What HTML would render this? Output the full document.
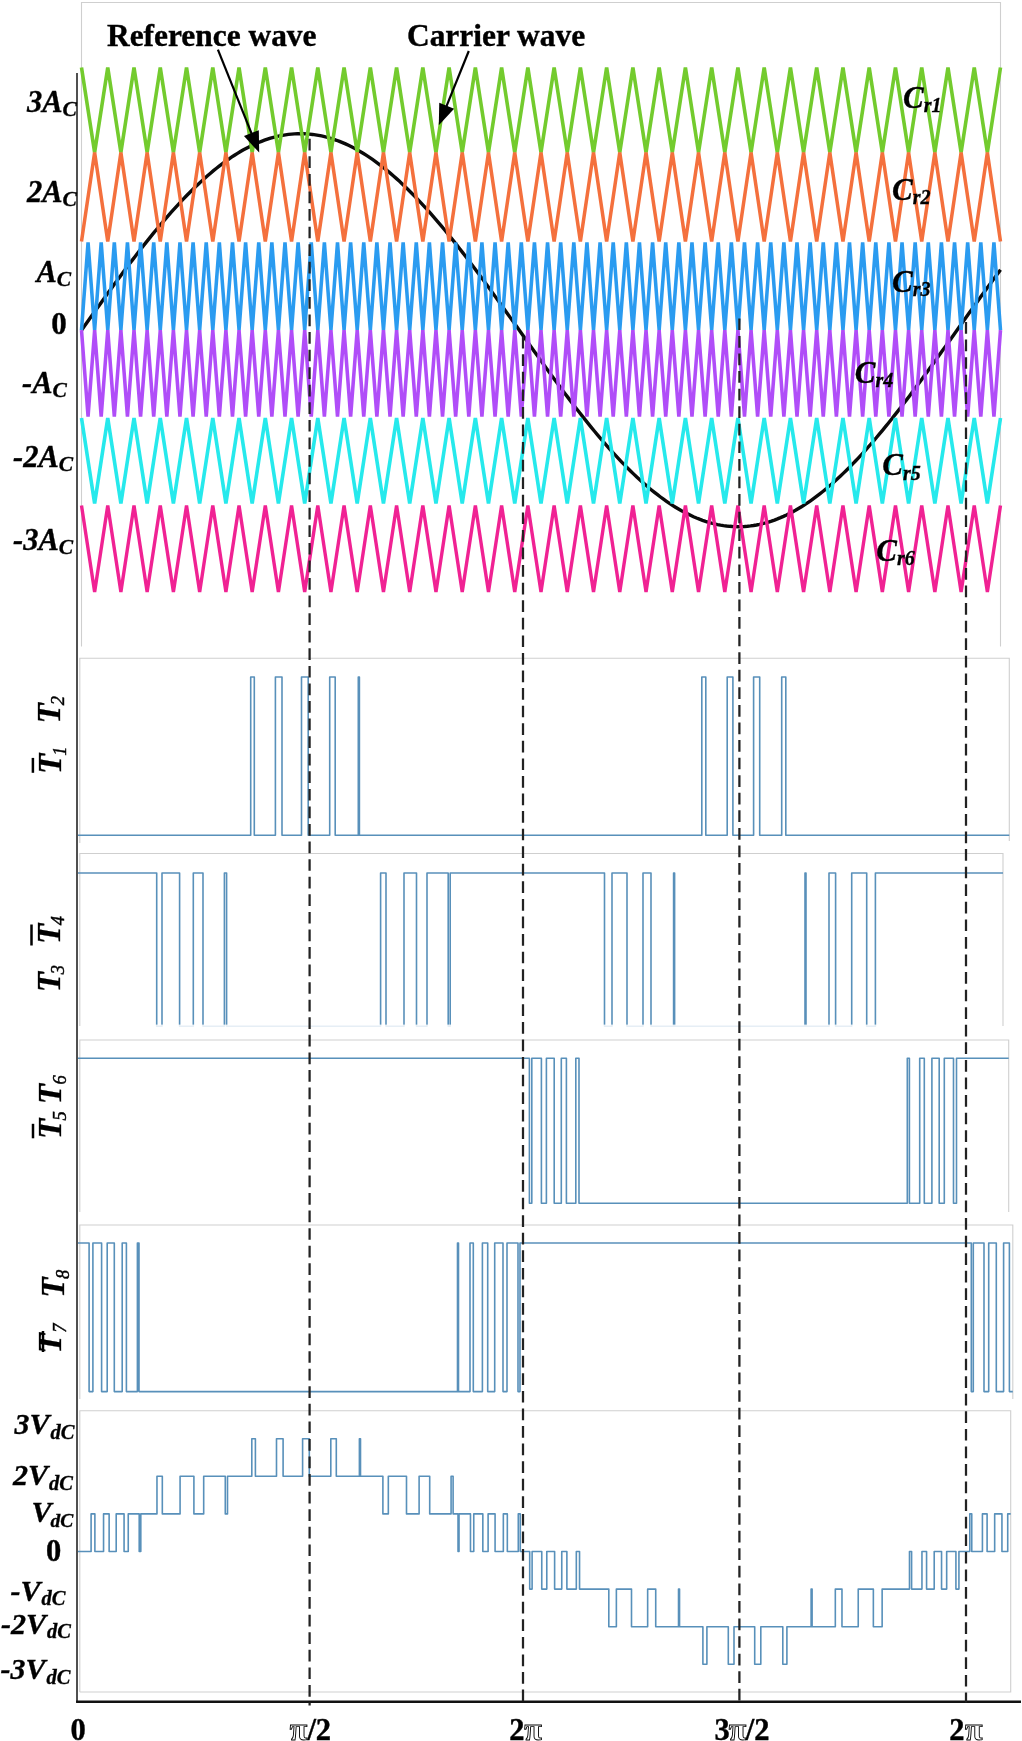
<!DOCTYPE html>
<html lang="en"><head><meta charset="utf-8"><title>Level-shifted PWM waveforms</title>
<style>html,body{margin:0;padding:0;background:#fff}svg{display:block}text{font-family:"Liberation Serif","DejaVu Serif",serif;fill:#000}.bi{font-weight:bold;font-style:italic;stroke:#000;stroke-width:0.35px}.b{font-weight:bold;stroke:#000;stroke-width:0.4px}.i{font-style:italic}</style></head><body>
<svg width="1022" height="1741" viewBox="0 0 1022 1741">
<rect width="1022" height="1741" fill="#fff"/>
<g fill="none" stroke="#cfcfcf" stroke-width="1.1">
<path d="M81.5 646.5V2.5H1000.5V646.5"/>
<path d="M79.8 843V658.3H1009.3V841"/>
<path d="M79.8 1026V853.5H1003V1026"/>
<path d="M79.8 1212V1040H1008.7V1212"/>
<path d="M79.8 1399V1225H1012.8V1399"/>
<path d="M79.8 1692V1410.7H1010.7V1692H79.8"/>
</g>
<polyline points="81.5,330.2 84.5,325.97 87.5,321.74 90.5,317.52 93.5,313.3 96.5,309.09 99.5,304.89 102.5,300.7 105.5,296.52 108.5,292.36 111.5,288.22 114.5,284.1 117.5,280 120.5,275.92 123.5,271.86 126.5,267.84 129.5,263.84 132.5,259.87 135.5,255.94 138.5,252.04 141.5,248.18 144.5,244.35 147.5,240.57 150.5,236.82 153.5,233.12 156.5,229.47 159.5,225.86 162.5,222.3 165.5,218.79 168.5,215.33 171.5,211.92 174.5,208.57 177.5,205.28 180.5,202.04 183.5,198.86 186.5,195.75 189.5,192.69 192.5,189.7 195.5,186.78 198.5,183.92 201.5,181.13 204.5,178.41 207.5,175.76 210.5,173.18 213.5,170.67 216.5,168.24 219.5,165.88 222.5,163.6 225.5,161.39 228.5,159.27 231.5,157.22 234.5,155.25 237.5,153.37 240.5,151.56 243.5,149.84 246.5,148.21 249.5,146.65 252.5,145.18 255.5,143.8 258.5,142.51 261.5,141.3 264.5,140.18 267.5,139.14 270.5,138.2 273.5,137.34 276.5,136.58 279.5,135.9 282.5,135.31 285.5,134.82 288.5,134.41 291.5,134.1 294.5,133.87 297.5,133.74 300.5,133.7 303.5,133.75 306.5,133.89 309.5,134.12 312.5,134.44 315.5,134.86 318.5,135.36 321.5,135.95 324.5,136.64 327.5,137.41 330.5,138.27 333.5,139.23 336.5,140.27 339.5,141.4 342.5,142.61 345.5,143.91 348.5,145.3 351.5,146.78 354.5,148.34 357.5,149.98 360.5,151.71 363.5,153.52 366.5,155.41 369.5,157.39 372.5,159.44 375.5,161.57 378.5,163.79 381.5,166.07 384.5,168.44 387.5,170.88 390.5,173.39 393.5,175.98 396.5,178.63 399.5,181.36 402.5,184.16 405.5,187.02 408.5,189.95 411.5,192.95 414.5,196.01 417.5,199.13 420.5,202.31 423.5,205.55 426.5,208.85 429.5,212.2 432.5,215.61 435.5,219.08 438.5,222.59 441.5,226.16 444.5,229.77 447.5,233.43 450.5,237.13 453.5,240.88 456.5,244.67 459.5,248.5 462.5,252.36 465.5,256.27 468.5,260.2 471.5,264.17 474.5,268.17 477.5,272.2 480.5,276.26 483.5,280.34 486.5,284.44 489.5,288.56 492.5,292.71 495.5,296.87 498.5,301.05 501.5,305.24 504.5,309.44 507.5,313.65 510.5,317.87 513.5,322.09 516.5,326.32 519.5,330.55 522.5,334.78 525.5,339.01 528.5,343.23 531.5,347.45 534.5,351.66 537.5,355.86 540.5,360.05 543.5,364.23 546.5,368.38 549.5,372.52 552.5,376.65 555.5,380.75 558.5,384.82 561.5,388.87 564.5,392.9 567.5,396.89 570.5,400.86 573.5,404.79 576.5,408.68 579.5,412.54 582.5,416.36 585.5,420.15 588.5,423.89 591.5,427.58 594.5,431.24 597.5,434.84 600.5,438.4 603.5,441.9 606.5,445.36 609.5,448.76 612.5,452.1 615.5,455.39 618.5,458.63 621.5,461.8 624.5,464.91 627.5,467.96 630.5,470.94 633.5,473.86 636.5,476.71 639.5,479.5 642.5,482.22 645.5,484.86 648.5,487.43 651.5,489.94 654.5,492.36 657.5,494.71 660.5,496.99 663.5,499.19 666.5,501.31 669.5,503.35 672.5,505.31 675.5,507.19 678.5,508.98 681.5,510.7 684.5,512.33 687.5,513.87 690.5,515.33 693.5,516.71 696.5,518 699.5,519.2 702.5,520.31 705.5,521.34 708.5,522.28 711.5,523.12 714.5,523.88 717.5,524.55 720.5,525.13 723.5,525.62 726.5,526.02 729.5,526.32 732.5,526.54 735.5,526.67 738.5,526.7 741.5,526.64 744.5,526.49 747.5,526.26 750.5,525.93 753.5,525.5 756.5,524.99 759.5,524.39 762.5,523.7 765.5,522.92 768.5,522.05 771.5,521.09 774.5,520.04 777.5,518.91 780.5,517.68 783.5,516.37 786.5,514.98 789.5,513.49 792.5,511.93 795.5,510.28 798.5,508.54 801.5,506.72 804.5,504.82 807.5,502.84 810.5,500.78 813.5,498.64 816.5,496.43 819.5,494.13 822.5,491.76 825.5,489.32 828.5,486.8 831.5,484.21 834.5,481.54 837.5,478.81 840.5,476.01 843.5,473.14 846.5,470.2 849.5,467.2 852.5,464.14 855.5,461.01 858.5,457.82 861.5,454.58 864.5,451.27 867.5,447.91 870.5,444.5 873.5,441.03 876.5,437.51 879.5,433.94 882.5,430.33 885.5,426.66 888.5,422.96 891.5,419.2 894.5,415.41 897.5,411.58 900.5,407.71 903.5,403.81 906.5,399.87 909.5,395.9 912.5,391.89 915.5,387.86 918.5,383.81 921.5,379.72 924.5,375.62 927.5,371.49 930.5,367.35 933.5,363.18 936.5,359.01 939.5,354.81 942.5,350.61 945.5,346.4 948.5,342.18 951.5,337.95 954.5,333.73 957.5,329.49 960.5,325.26 963.5,321.04 966.5,316.81 969.5,312.6 972.5,308.39 975.5,304.19 978.5,300 981.5,295.83 984.5,291.67 987.5,287.53 990.5,283.41 993.5,279.31 996.5,275.24 999.5,271.19 1000.5,269.85" fill="none" stroke="#0a0a0a" stroke-width="3.4" stroke-linejoin="round"/>
<defs><filter id="sb" x="-1%" y="-5%" width="102%" height="110%"><feGaussianBlur stdDeviation="0.55"/></filter><filter id="sb2" x="-1%" y="-5%" width="102%" height="110%"><feGaussianBlur stdDeviation="0.35"/></filter></defs>
<g filter="url(#sb)">
<polyline points="81.5,67.5 94.63,152.5 107.76,67.5 120.89,152.5 134.01,67.5 147.14,152.5 160.27,67.5 173.4,152.5 186.53,67.5 199.66,152.5 212.79,67.5 225.91,152.5 239.04,67.5 252.17,152.5 265.3,67.5 278.43,152.5 291.56,67.5 304.69,152.5 317.81,67.5 330.94,152.5 344.07,67.5 357.2,152.5 370.33,67.5 383.46,152.5 396.59,67.5 409.71,152.5 422.84,67.5 435.97,152.5 449.1,67.5 462.23,152.5 475.36,67.5 488.49,152.5 501.61,67.5 514.74,152.5 527.87,67.5 541,152.5 554.13,67.5 567.26,152.5 580.39,67.5 593.51,152.5 606.64,67.5 619.77,152.5 632.9,67.5 646.03,152.5 659.16,67.5 672.29,152.5 685.41,67.5 698.54,152.5 711.67,67.5 724.8,152.5 737.93,67.5 751.06,152.5 764.19,67.5 777.31,152.5 790.44,67.5 803.57,152.5 816.7,67.5 829.83,152.5 842.96,67.5 856.09,152.5 869.21,67.5 882.34,152.5 895.47,67.5 908.6,152.5 921.73,67.5 934.86,152.5 947.99,67.5 961.11,152.5 974.24,67.5 987.37,152.5 1000.5,67.5" fill="none" stroke="#73cb2e" stroke-width="3.6" stroke-linejoin="miter" stroke-miterlimit="2"/>
<polyline points="81.5,241.5 94.63,152.5 107.76,241.5 120.89,152.5 134.01,241.5 147.14,152.5 160.27,241.5 173.4,152.5 186.53,241.5 199.66,152.5 212.79,241.5 225.91,152.5 239.04,241.5 252.17,152.5 265.3,241.5 278.43,152.5 291.56,241.5 304.69,152.5 317.81,241.5 330.94,152.5 344.07,241.5 357.2,152.5 370.33,241.5 383.46,152.5 396.59,241.5 409.71,152.5 422.84,241.5 435.97,152.5 449.1,241.5 462.23,152.5 475.36,241.5 488.49,152.5 501.61,241.5 514.74,152.5 527.87,241.5 541,152.5 554.13,241.5 567.26,152.5 580.39,241.5 593.51,152.5 606.64,241.5 619.77,152.5 632.9,241.5 646.03,152.5 659.16,241.5 672.29,152.5 685.41,241.5 698.54,152.5 711.67,241.5 724.8,152.5 737.93,241.5 751.06,152.5 764.19,241.5 777.31,152.5 790.44,241.5 803.57,152.5 816.7,241.5 829.83,152.5 842.96,241.5 856.09,152.5 869.21,241.5 882.34,152.5 895.47,241.5 908.6,152.5 921.73,241.5 934.86,152.5 947.99,241.5 961.11,152.5 974.24,241.5 987.37,152.5 1000.5,241.5" fill="none" stroke="#f4703c" stroke-width="3.5" stroke-linejoin="miter" stroke-miterlimit="2"/>
<polyline points="81.5,330.2 88.06,242.5 94.63,330.2 101.19,242.5 107.76,330.2 114.32,242.5 120.89,330.2 127.45,242.5 134.01,330.2 140.58,242.5 147.14,330.2 153.71,242.5 160.27,330.2 166.84,242.5 173.4,330.2 179.96,242.5 186.53,330.2 193.09,242.5 199.66,330.2 206.22,242.5 212.79,330.2 219.35,242.5 225.91,330.2 232.48,242.5 239.04,330.2 245.61,242.5 252.17,330.2 258.74,242.5 265.3,330.2 271.86,242.5 278.43,330.2 284.99,242.5 291.56,330.2 298.12,242.5 304.69,330.2 311.25,242.5 317.81,330.2 324.38,242.5 330.94,330.2 337.51,242.5 344.07,330.2 350.64,242.5 357.2,330.2 363.76,242.5 370.33,330.2 376.89,242.5 383.46,330.2 390.02,242.5 396.59,330.2 403.15,242.5 409.71,330.2 416.28,242.5 422.84,330.2 429.41,242.5 435.97,330.2 442.54,242.5 449.1,330.2 455.66,242.5 462.23,330.2 468.79,242.5 475.36,330.2 481.92,242.5 488.49,330.2 495.05,242.5 501.61,330.2 508.18,242.5 514.74,330.2 521.31,242.5 527.87,330.2 534.44,242.5 541,330.2 547.56,242.5 554.13,330.2 560.69,242.5 567.26,330.2 573.82,242.5 580.39,330.2 586.95,242.5 593.51,330.2 600.08,242.5 606.64,330.2 613.21,242.5 619.77,330.2 626.34,242.5 632.9,330.2 639.46,242.5 646.03,330.2 652.59,242.5 659.16,330.2 665.72,242.5 672.29,330.2 678.85,242.5 685.41,330.2 691.98,242.5 698.54,330.2 705.11,242.5 711.67,330.2 718.24,242.5 724.8,330.2 731.36,242.5 737.93,330.2 744.49,242.5 751.06,330.2 757.62,242.5 764.19,330.2 770.75,242.5 777.31,330.2 783.88,242.5 790.44,330.2 797.01,242.5 803.57,330.2 810.14,242.5 816.7,330.2 823.26,242.5 829.83,330.2 836.39,242.5 842.96,330.2 849.52,242.5 856.09,330.2 862.65,242.5 869.21,330.2 875.78,242.5 882.34,330.2 888.91,242.5 895.47,330.2 902.04,242.5 908.6,330.2 915.16,242.5 921.73,330.2 928.29,242.5 934.86,330.2 941.42,242.5 947.99,330.2 954.55,242.5 961.11,330.2 967.68,242.5 974.24,330.2 980.81,242.5 987.37,330.2 993.94,242.5 1000.5,330.2" fill="none" stroke="#2b9bf0" stroke-width="3.55" stroke-linejoin="miter" stroke-miterlimit="2"/>
<polyline points="81.5,330.2 88.06,416.5 94.63,330.2 101.19,416.5 107.76,330.2 114.32,416.5 120.89,330.2 127.45,416.5 134.01,330.2 140.58,416.5 147.14,330.2 153.71,416.5 160.27,330.2 166.84,416.5 173.4,330.2 179.96,416.5 186.53,330.2 193.09,416.5 199.66,330.2 206.22,416.5 212.79,330.2 219.35,416.5 225.91,330.2 232.48,416.5 239.04,330.2 245.61,416.5 252.17,330.2 258.74,416.5 265.3,330.2 271.86,416.5 278.43,330.2 284.99,416.5 291.56,330.2 298.12,416.5 304.69,330.2 311.25,416.5 317.81,330.2 324.38,416.5 330.94,330.2 337.51,416.5 344.07,330.2 350.64,416.5 357.2,330.2 363.76,416.5 370.33,330.2 376.89,416.5 383.46,330.2 390.02,416.5 396.59,330.2 403.15,416.5 409.71,330.2 416.28,416.5 422.84,330.2 429.41,416.5 435.97,330.2 442.54,416.5 449.1,330.2 455.66,416.5 462.23,330.2 468.79,416.5 475.36,330.2 481.92,416.5 488.49,330.2 495.05,416.5 501.61,330.2 508.18,416.5 514.74,330.2 521.31,416.5 527.87,330.2 534.44,416.5 541,330.2 547.56,416.5 554.13,330.2 560.69,416.5 567.26,330.2 573.82,416.5 580.39,330.2 586.95,416.5 593.51,330.2 600.08,416.5 606.64,330.2 613.21,416.5 619.77,330.2 626.34,416.5 632.9,330.2 639.46,416.5 646.03,330.2 652.59,416.5 659.16,330.2 665.72,416.5 672.29,330.2 678.85,416.5 685.41,330.2 691.98,416.5 698.54,330.2 705.11,416.5 711.67,330.2 718.24,416.5 724.8,330.2 731.36,416.5 737.93,330.2 744.49,416.5 751.06,330.2 757.62,416.5 764.19,330.2 770.75,416.5 777.31,330.2 783.88,416.5 790.44,330.2 797.01,416.5 803.57,330.2 810.14,416.5 816.7,330.2 823.26,416.5 829.83,330.2 836.39,416.5 842.96,330.2 849.52,416.5 856.09,330.2 862.65,416.5 869.21,330.2 875.78,416.5 882.34,330.2 888.91,416.5 895.47,330.2 902.04,416.5 908.6,330.2 915.16,416.5 921.73,330.2 928.29,416.5 934.86,330.2 941.42,416.5 947.99,330.2 954.55,416.5 961.11,330.2 967.68,416.5 974.24,330.2 980.81,416.5 987.37,330.2 993.94,416.5 1000.5,330.2" fill="none" stroke="#b04ef8" stroke-width="3.55" stroke-linejoin="miter" stroke-miterlimit="2"/>
<polyline points="81.5,418 94.63,503.5 107.76,418 120.89,503.5 134.01,418 147.14,503.5 160.27,418 173.4,503.5 186.53,418 199.66,503.5 212.79,418 225.91,503.5 239.04,418 252.17,503.5 265.3,418 278.43,503.5 291.56,418 304.69,503.5 317.81,418 330.94,503.5 344.07,418 357.2,503.5 370.33,418 383.46,503.5 396.59,418 409.71,503.5 422.84,418 435.97,503.5 449.1,418 462.23,503.5 475.36,418 488.49,503.5 501.61,418 514.74,503.5 527.87,418 541,503.5 554.13,418 567.26,503.5 580.39,418 593.51,503.5 606.64,418 619.77,503.5 632.9,418 646.03,503.5 659.16,418 672.29,503.5 685.41,418 698.54,503.5 711.67,418 724.8,503.5 737.93,418 751.06,503.5 764.19,418 777.31,503.5 790.44,418 803.57,503.5 816.7,418 829.83,503.5 842.96,418 856.09,503.5 869.21,418 882.34,503.5 895.47,418 908.6,503.5 921.73,418 934.86,503.5 947.99,418 961.11,503.5 974.24,418 987.37,503.5 1000.5,418" fill="none" stroke="#25e9ec" stroke-width="3.6" stroke-linejoin="miter" stroke-miterlimit="2"/>
<polyline points="81.5,505.5 94.63,592 107.76,505.5 120.89,592 134.01,505.5 147.14,592 160.27,505.5 173.4,592 186.53,505.5 199.66,592 212.79,505.5 225.91,592 239.04,505.5 252.17,592 265.3,505.5 278.43,592 291.56,505.5 304.69,592 317.81,505.5 330.94,592 344.07,505.5 357.2,592 370.33,505.5 383.46,592 396.59,505.5 409.71,592 422.84,505.5 435.97,592 449.1,505.5 462.23,592 475.36,505.5 488.49,592 501.61,505.5 514.74,592 527.87,505.5 541,592 554.13,505.5 567.26,592 580.39,505.5 593.51,592 606.64,505.5 619.77,592 632.9,505.5 646.03,592 659.16,505.5 672.29,592 685.41,505.5 698.54,592 711.67,505.5 724.8,592 737.93,505.5 751.06,592 764.19,505.5 777.31,592 790.44,505.5 803.57,592 816.7,505.5 829.83,592 842.96,505.5 856.09,592 869.21,505.5 882.34,592 895.47,505.5 908.6,592 921.73,505.5 934.86,592 947.99,505.5 961.11,592 974.24,505.5 987.37,592 1000.5,505.5" fill="none" stroke="#f02293" stroke-width="3.4" stroke-linejoin="miter" stroke-miterlimit="2"/>
</g>
<g filter="url(#sb2)">
<path d="M78 835.2H250.7V677H254.3V835.2H275.4V677H282V835.2H301.5V677H308.2V835.2H329.7V677H335.2V835.2H358.3V677H359.4V835.2H701.8V677H705.8V835.2H727.2V677H732.9V835.2H753.6V677H759.7V835.2H781.7V677H785.8V835.2H1009.3" fill="none" stroke="#5890ba" stroke-width="1.6" stroke-linejoin="round"/>
<path d="M78 873H156.7V1026.2H162V873H179.6V1026.2H193.3V873H203V1026.2H224.4V873H226.6V1026.2H380.6V873H386V1026.2H404V873H416.5V1026.2H427V873H448.2V1026.2H450.2V873H604.5V1026.2H612V873H627V1026.2H643V873H651V1026.2H673.6V873H674.6V1026.2H805V873H806V1026.2H829V873H835.6V1026.2H851.7V873H866.7V1026.2H875.4V873H1003" fill="none" stroke="#5890ba" stroke-width="1.6" stroke-linejoin="round"/>
<path d="M78 1058.2H529.4V1203.3H531.8V1058.2H541.4V1203.3H546.4V1058.2H554.2V1203.3H561.3V1058.2H566.4V1203.3H575.8V1058.2H579V1203.3H907.3V1058.2H909.4V1203.3H919.7V1058.2H924.3V1203.3H931.9V1058.2H939.2V1203.3H944.3V1058.2H953.5V1203.3H956.5V1058.2H1008.7" fill="none" stroke="#5890ba" stroke-width="1.6" stroke-linejoin="round"/>
<path d="M78 1243H89.1V1391.6H92.9V1243H101.6V1391.6H107.2V1243H114.3V1391.6H122.2V1243H126.4V1391.6H137.4V1243H139V1391.6H457.5V1243H458.5V1391.6H470V1243H473.3V1391.6H482.4V1243H487.7V1391.6H494.7V1243H503V1391.6H507V1243H518V1391.6H520V1243H971.3V1391.6H973.3V1243H984V1391.6H988.7V1243H996.3V1391.6H1003.6V1243H1009.4V1391.6H1012.8" fill="none" stroke="#5890ba" stroke-width="1.6" stroke-linejoin="round"/>
<rect x="81" y="1024.6" width="921" height="3.4" fill="#fff" opacity="0.85"/>
<path d="M78 1551.5H91.1V1513.9H94.88V1551.5H103.55V1513.9H109.13V1551.5H116.2V1513.9H124.07V1551.5H128.25V1513.9H139.21V1551.5H140.8V1513.9H156.97V1476.3H162.32V1513.9H180.08V1476.3H193.9V1513.9H203.69V1476.3H225.28V1513.9H227.5V1476.3H251.8V1438.7H255.4V1476.3H276.5V1438.7H283.1V1476.3H302.6V1438.7H309.3V1476.3H330.8V1438.7H336.3V1476.3H359.4V1438.7H360.5V1476.3H382.89V1513.9H388.33V1476.3H406.5V1513.9H419.11V1476.3H429.7V1513.9H451.09V1476.3H453.11V1513.9H458.03V1551.5H459.02V1513.9H470.48V1551.5H473.76V1513.9H482.83V1551.5H488.11V1513.9H495.08V1551.5H503.34V1513.9H507.33V1551.5H518.28V1513.9H520.28V1551.5H529.7V1589.1H532.11V1551.5H541.76V1589.1H546.78V1551.5H554.62V1589.1H561.76V1551.5H566.88V1589.1H576.33V1551.5H579.54V1589.1H608.8V1626.7H616.37V1589.1H631.5V1626.7H647.65V1589.1H655.72V1626.7H678.52V1589.1H679.53V1626.7H702.9V1664.3H706.9V1626.7H728.3V1664.3H734V1626.7H754.7V1664.3H760.8V1626.7H782.8V1664.3H786.9V1626.7H811.11V1589.1H812.11V1626.7H835.32V1589.1H841.98V1626.7H858.23V1589.1H873.36V1626.7H882.14V1589.1H909.49V1551.5H911.6V1589.1H921.95V1551.5H926.57V1589.1H934.21V1551.5H941.55V1589.1H946.67V1551.5H955.92V1589.1H958.93V1551.5H969.77V1513.9H971.76V1551.5H982.42V1513.9H987.1V1551.5H994.67V1513.9H1001.94V1551.5H1007.72V1513.9H1010.7" fill="none" stroke="#5890ba" stroke-width="1.6" stroke-linejoin="round"/>
</g>
<path d="M77 73V1702.5" fill="none" stroke="#3d3d3d" stroke-width="1.8"/>
<path d="M76.1 1701.7H1021" fill="none" stroke="#111" stroke-width="2.4"/>
<g fill="none" stroke="#222" stroke-width="2.25" stroke-dasharray="11.7 5.87">
<path d="M309.6 138.8V1705.4"/>
<path d="M523 336.7V1707"/>
<path d="M739.4 318.4V1701.5"/>
<path d="M966 322V1702.5"/>
</g>
<path d="M217.9 49.6 L252.13 134.96" stroke="#000" stroke-width="2.2" fill="none"/>
<path d="M259.2 152.6 L243.96 136.09 L258.81 130.13 Z" fill="#000"/>
<path d="M468.8 51 L445.92 107.59" stroke="#000" stroke-width="2.2" fill="none"/>
<path d="M438.8 125.2 L439.25 102.73 L454.09 108.73 Z" fill="#000"/>
<text x="107" y="46.3" class="b" font-size="31.4" text-anchor="start">Reference wave</text>
<text x="407" y="46.3" class="b" font-size="31.4" text-anchor="start">Carrier wave</text>
<text x="27" y="111.7" class="bi" font-size="30.5">3A<tspan font-size="21.5" dy="4" dx="0">C</tspan></text>
<text x="27" y="202.2" class="bi" font-size="30.5">2A<tspan font-size="21.5" dy="4" dx="0">C</tspan></text>
<text x="36.5" y="282.4" class="bi" font-size="30.5">A<tspan font-size="21.5" dy="4" dx="0">C</tspan></text>
<text x="51.2" y="334" class="b" font-size="31" text-anchor="start">0</text>
<text x="22" y="393.3" class="bi" font-size="30.5">-A<tspan font-size="21.5" dy="4" dx="0">C</tspan></text>
<text x="13" y="467.2" class="bi" font-size="30.5">-2A<tspan font-size="21.5" dy="4" dx="0">C</tspan></text>
<text x="13" y="549.8" class="bi" font-size="30.5">-3A<tspan font-size="21.5" dy="4" dx="0">C</tspan></text>
<text x="903" y="107.8" class="bi" font-size="31">C<tspan font-size="20" dy="3.8" dx="0">r1</tspan></text>
<text x="892" y="200.3" class="bi" font-size="31">C<tspan font-size="20" dy="3.8" dx="0">r2</tspan></text>
<text x="892" y="292" class="bi" font-size="31">C<tspan font-size="20" dy="3.8" dx="0">r3</tspan></text>
<text x="854.8" y="382.6" class="bi" font-size="31">C<tspan font-size="20" dy="4.4" dx="0">r4</tspan></text>
<text x="882.2" y="475.3" class="bi" font-size="31">C<tspan font-size="20" dy="4.4" dx="0">r5</tspan></text>
<text x="876.3" y="560.9" class="bi" font-size="31">C<tspan font-size="20" dy="4.4" dx="0">r6</tspan></text>
<text x="14.5" y="1434" class="bi" font-size="30">3V<tspan font-size="20.5" dy="4.7" dx="1">dC</tspan></text>
<text x="13" y="1485.3" class="bi" font-size="30">2V<tspan font-size="20.5" dy="4.5" dx="1">dC</tspan></text>
<text x="31.5" y="1522.4" class="bi" font-size="30">V<tspan font-size="19.5" dy="4.5" dx="-1">dC</tspan></text>
<text x="46" y="1561.2" class="b" font-size="30.5" text-anchor="start">0</text>
<text x="10.5" y="1600.9" class="bi" font-size="30">-V<tspan font-size="20.5" dy="4.5" dx="1">dC</tspan></text>
<text x="1" y="1633.6" class="bi" font-size="30">-2V<tspan font-size="20.5" dy="4.2" dx="1">dC</tspan></text>
<text x="0.5" y="1679.3" class="bi" font-size="30">-3V<tspan font-size="20.5" dy="4.6" dx="1">dC</tspan></text>
<text transform="translate(59.7 723.6) rotate(-90)" class="bi" font-size="33" style="stroke:#000;stroke-width:0.3px">T</text>
<text transform="translate(64.1 705.3) rotate(-90)" class="i" font-size="18.5" style="stroke:#000;stroke-width:0.45px">2</text>
<text transform="translate(61.2 773.9) rotate(-90)" class="bi" font-size="33" style="stroke:#000;stroke-width:0.3px">T</text>
<text transform="translate(65.5 755.8) rotate(-90)" class="i" font-size="18.5" style="stroke:#000;stroke-width:0.45px">1</text>
<path d="M32.9 757.9V772.8" stroke="#000" stroke-width="2.5" fill="none"/>
<text transform="translate(59.7 943.9) rotate(-90)" class="bi" font-size="33" style="stroke:#000;stroke-width:0.3px">T</text>
<text transform="translate(64.1 925.3) rotate(-90)" class="i" font-size="18.5" style="stroke:#000;stroke-width:0.45px">4</text>
<path d="M31.5 924.5V945.5" stroke="#000" stroke-width="2.5" fill="none"/>
<text transform="translate(59.7 992.2) rotate(-90)" class="bi" font-size="33" style="stroke:#000;stroke-width:0.3px">T</text>
<text transform="translate(64.1 974.3) rotate(-90)" class="i" font-size="18.5" style="stroke:#000;stroke-width:0.45px">3</text>
<text transform="translate(61.4 1104.2) rotate(-90)" class="bi" font-size="33" style="stroke:#000;stroke-width:0.3px">T</text>
<text transform="translate(65.5 1084.6) rotate(-90)" class="i" font-size="18.5" style="stroke:#000;stroke-width:0.45px">6</text>
<text transform="translate(61.4 1139.1) rotate(-90)" class="bi" font-size="33" style="stroke:#000;stroke-width:0.3px">T</text>
<text transform="translate(65.5 1120.5) rotate(-90)" class="i" font-size="18.5" style="stroke:#000;stroke-width:0.45px">5</text>
<path d="M33 1123.8V1138.3" stroke="#000" stroke-width="2.5" fill="none"/>
<text transform="translate(64.1 1297.7) rotate(-90)" class="bi" font-size="33" style="stroke:#000;stroke-width:0.3px">T</text>
<text transform="translate(69 1279.1) rotate(-90)" class="i" font-size="18.5" style="stroke:#000;stroke-width:0.45px">8</text>
<text transform="translate(61 1353.6) rotate(-90)" class="bi" font-size="33" style="stroke:#000;stroke-width:0.3px">T</text>
<text transform="translate(65.5 1332.8) rotate(-90)" class="i" font-size="18.5" style="stroke:#000;stroke-width:0.45px">7</text>
<path d="M43 1331V1352" stroke="#000" stroke-width="2.5" fill="none"/>
<text x="70.4" y="1740.3" class="b" font-size="30.5">0</text>
<text x="289.8" y="1740.3" font-size="31" textLength="17.5" lengthAdjust="spacingAndGlyphs" style="fill:#fff;stroke:#000;stroke-width:0.9px" class="b">π</text>
<text x="307.4" y="1740.3" class="b" font-size="30.5">/2</text>
<text x="509.2" y="1740.3" class="b" font-size="30.5">2</text>
<text x="524.3" y="1740.3" font-size="31" textLength="17.5" lengthAdjust="spacingAndGlyphs" style="fill:#fff;stroke:#000;stroke-width:0.9px" class="b">π</text>
<text x="714.5" y="1740.3" class="b" font-size="30.5">3</text>
<text x="728.7" y="1740.3" font-size="31" textLength="17.5" lengthAdjust="spacingAndGlyphs" style="fill:#fff;stroke:#000;stroke-width:0.9px" class="b">π</text>
<text x="745.8" y="1740.3" class="b" font-size="30.5">/2</text>
<text x="949.3" y="1740.3" class="b" font-size="30.5">2</text>
<text x="965" y="1740.3" font-size="31" textLength="17.5" lengthAdjust="spacingAndGlyphs" style="fill:#fff;stroke:#000;stroke-width:0.9px" class="b">π</text>
</svg></body></html>
